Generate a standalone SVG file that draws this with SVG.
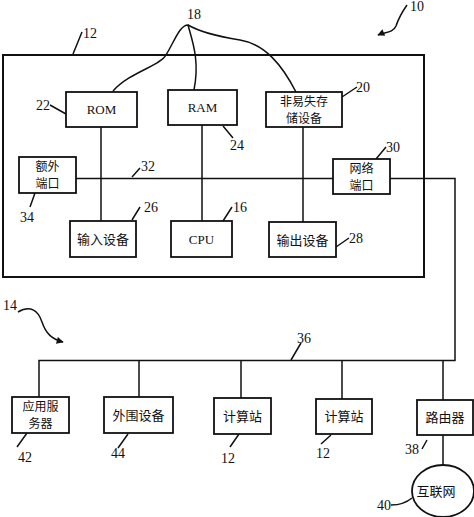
<svg xmlns="http://www.w3.org/2000/svg" width="474" height="517" viewBox="0 0 474 517">
<style>
.box{fill:#fff;stroke:#111;stroke-width:1.8}
.ln{fill:none;stroke:#111;stroke-width:1.5}
.lbl{font-family:"Liberation Serif","Noto Sans CJK SC",serif;font-size:14px;fill:#111}
.t{font-family:"Liberation Serif","Noto Sans CJK SC",serif;font-size:13px;fill:#111;text-anchor:middle}
.zh{font-family:"Noto Sans CJK SC",sans-serif;font-size:13px;fill:#111;text-anchor:middle}
.zh2{font-family:"Noto Sans CJK SC",sans-serif;font-size:12px;fill:#111;text-anchor:middle}
</style>
<defs>
<marker id="ah" viewBox="0 0 10 10" refX="9" refY="5" markerWidth="9" markerHeight="7" orient="auto" markerUnits="userSpaceOnUse"><path d="M0,0 L10,5 L0,10 z" fill="#111"/></marker>
</defs>
<rect width="474" height="517" fill="#fff"/>
<g id="connectors">
<path class="ln" d="M101,127 V221 M202,125 V221 M303,127 V222"/>
<path class="ln" d="M76,178.5 H333 M390,178.5 H455 V360.5 H39 V397 M139,360.5 V397 M241,360.5 V398 M342,360.5 V399 M443,360.5 V400 M443,435 V465"/>
<path class="ln" d="M113,91 C130,72 160,66 166,55 C175,40 180,25 188,25 C192,40 200,60 194,90"/>
<path class="ln" d="M188,25 C200,32 215,36 240,40 C265,44 282,65 296,92"/>
<path class="ln" d="M407,5 C400,15 398,20 396,26 C393,33 385,32 378,35" marker-end="url(#ah)"/>
<path class="ln" d="M18,312 C30,305 38,310 42,322 C46,334 52,339 63,342" marker-end="url(#ah)"/>
<path class="ln" d="M82,32 L73,54 M50,105 L66,114 M223,126 L233,138 M342,97 L357,87 M132,177 L140,168 M35,193 L30,207 M132,220 L140,207 M223,221 L232,207 M376,159 L386,147 M336,247 L349,238 M291,360 L301,343 M27,433 L17,447 M128,434 L118,448 M239,434 L230,447 M331,435 L321,444 M427,440 L422,449 M391,505 C400,505 406,503 412,498"/>
</g>
<g id="system12"><rect x="3" y="55" width="421" height="222" style="fill:none;stroke:#111;stroke-width:2"/></g>
<g id="rom"><rect class="box" x="66" y="92" width="71" height="35"/><text class="t" x="101.5" y="114">ROM</text></g>
<g id="ram"><rect class="box" x="168" y="90" width="69" height="35"/><text class="t" x="202.5" y="112">RAM</text></g>
<g id="nvram"><rect class="box" x="266" y="92" width="76" height="35"/><text class="zh2" x="304" y="106">非易失存</text><text class="zh2" x="304" y="123">储设备</text></g>
<g id="extport"><rect class="box" x="19" y="157" width="57" height="36"/><text class="zh2" x="47.5" y="171">额外</text><text class="zh2" x="47.5" y="188">端口</text></g>
<g id="netport"><rect class="box" x="333" y="159" width="57" height="35"/><text class="zh2" x="361.5" y="173">网络</text><text class="zh2" x="361.5" y="190">端口</text></g>
<g id="input"><rect class="box" x="70" y="221" width="66" height="36"/><text class="zh" x="103" y="244">输入设备</text></g>
<g id="cpu"><rect class="box" x="171" y="221" width="61" height="36"/><text class="t" x="201.5" y="244">CPU</text></g>
<g id="output"><rect class="box" x="269" y="222" width="67" height="35"/><text class="zh" x="302.5" y="245">输出设备</text></g>
<g id="appserver"><rect class="box" x="12" y="397" width="57" height="36"/><text class="zh2" x="40.5" y="411">应用服</text><text class="zh2" x="40.5" y="428">务器</text></g>
<g id="peripheral"><rect class="box" x="104" y="397" width="69" height="36"/><text class="zh" x="138.5" y="420">外围设备</text></g>
<g id="station1"><rect class="box" x="214" y="398" width="57" height="36"/><text class="zh" x="242.5" y="421">计算站</text></g>
<g id="station2"><rect class="box" x="316" y="399" width="56" height="35"/><text class="zh" x="344" y="421">计算站</text></g>
<g id="router"><rect class="box" x="417" y="400" width="56" height="35"/><text class="zh" x="445" y="422">路由器</text></g>
<g id="internet"><ellipse class="box" cx="443" cy="491" rx="31" ry="26"/><text class="zh" x="436" y="496">互联网</text></g>
<g id="labels">
<text class="lbl" x="187" y="19">18</text>
<text class="lbl" x="83" y="38">12</text>
<text class="lbl" x="410" y="11">10</text>
<text class="lbl" x="36" y="110">22</text>
<text class="lbl" x="230" y="150">24</text>
<text class="lbl" x="356" y="92">20</text>
<text class="lbl" x="141" y="171">32</text>
<text class="lbl" x="20" y="222">34</text>
<text class="lbl" x="144" y="212">26</text>
<text class="lbl" x="233" y="212">16</text>
<text class="lbl" x="386" y="152">30</text>
<text class="lbl" x="349" y="243">28</text>
<text class="lbl" x="3" y="310">14</text>
<text class="lbl" x="297" y="343">36</text>
<text class="lbl" x="18" y="462">42</text>
<text class="lbl" x="111" y="458">44</text>
<text class="lbl" x="221" y="463">12</text>
<text class="lbl" x="316" y="458">12</text>
<text class="lbl" x="405" y="454">38</text>
<text class="lbl" x="377" y="510">40</text>
</g>
</svg>
